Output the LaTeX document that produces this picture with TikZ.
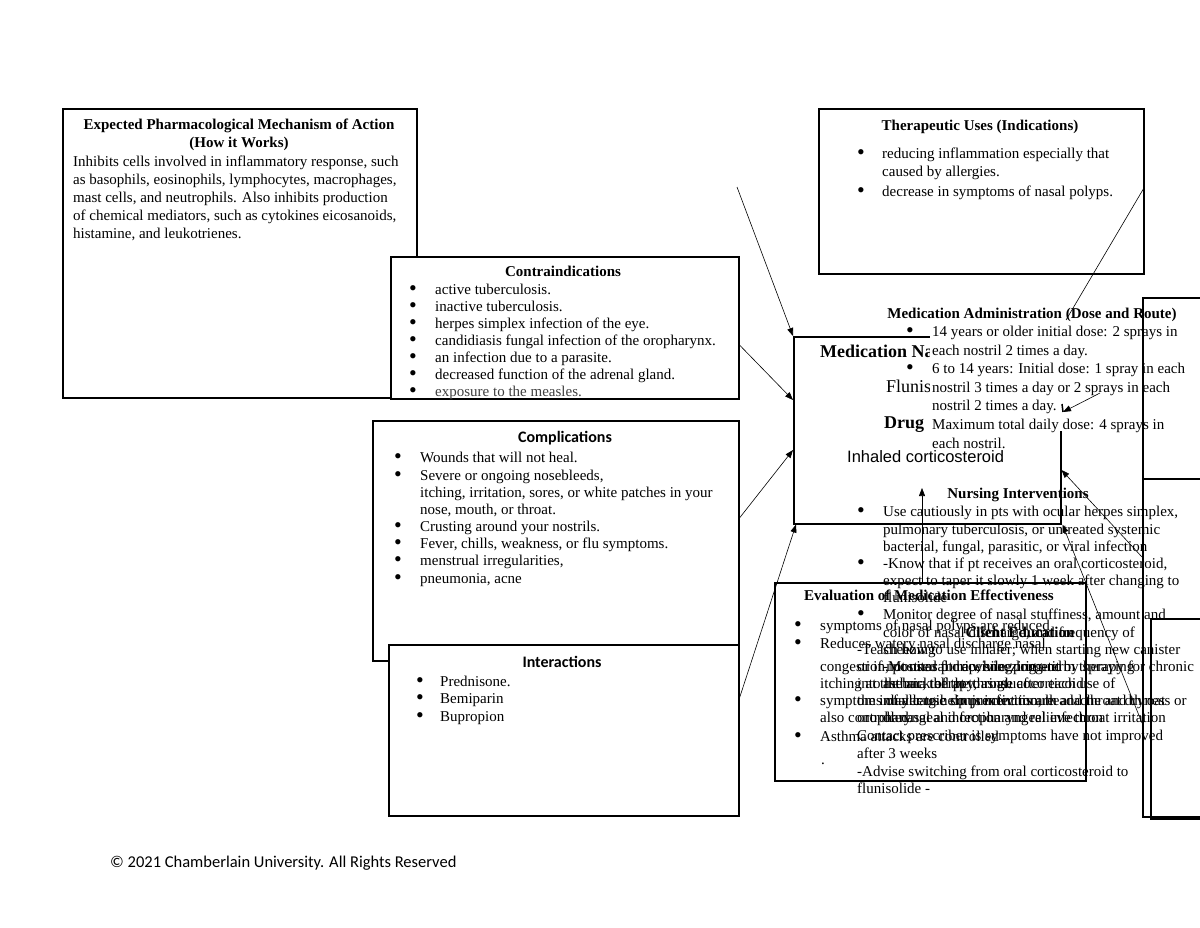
\documentclass[tikz,border=0pt]{standalone}
\usepackage{fontspec}
\setmainfont{Liberation Serif}
\newfontfamily\calfont{Carlito}
\newfontfamily\arialfont{Liberation Sans}
\usetikzlibrary{arrows.meta}
\newcommand\bodyfs{\fontsize{15}{18}\selectfont}
\begin{document}
\begin{tikzpicture}[x=1pt,y=-1pt,
  box/.style={draw,line width=1.5pt,inner sep=0pt,anchor=north west},
  wbox/.style={box,fill=white},
  t/.style={anchor=base west,inner sep=0pt,font=\bodyfs},
  hd/.style={anchor=base,inner sep=0pt,font=\bodyfs\bfseries},
  sh/.style={anchor=base,inner sep=0pt,font=\calfont\fontsize{16}{18}\selectfont\bfseries},
  bl/.style={anchor=base west,inner sep=0pt,yshift=-1.5pt,font=\fontsize{22}{22}\selectfont},
  arr/.style={line width=0.6pt,-{Triangle[length=8pt,width=6pt]}},
  ln/.style={line width=0.6pt}]
\useasboundingbox (0,0) rectangle (1200,927);
\clip (0,0) rectangle (1200,927);
\fill[white] (0,0) rectangle (1200,927);

% ---------- Mechanism ----------
\node[box,minimum width=354pt,minimum height=289pt] (mech) at (62,108) {};
\node[hd] (mechh1) at (239,129) {Expected Pharmacological Mechanism of Action};
\node[hd] (mechh2) at (239,147) {(How it Works)};
\node[t] (mech1) at (73,166) {Inhibits cells involved in inflammatory response, such};
\node[t] (mech2) at (73,184) {as basophils, eosinophils, lymphocytes, macrophages,};
\node[t] (mech3) at (73,202) {mast cells, and neutrophils. Also inhibits production};
\node[t] (mech4) at (73,220) {of chemical mediators, such as cytokines eicosanoids,};
\node[t] (mech5) at (73,238) {histamine, and leukotrienes.};

% ---------- Contraindications ----------
\node[wbox,minimum width=348pt,minimum height=142pt] (contra) at (390,256) {};
\node[hd] (contrah) at (563,276) {Contraindications};
\foreach \y/\s [count=\i] in {294/active tuberculosis.,311/inactive tuberculosis.,
  328/herpes simplex infection of the eye.,345/candidiasis fungal infection of the oropharynx.,
  362/an infection due to a parasite.,379/decreased function of the adrenal gland.}
  {\node[bl] (cb\i) at (409,\y) {•}; \node[t] (ct\i) at (435,\y) {\s};}
\node[bl] (cb7) at (409,396) {•};
\node[t,text=black!75] (ct7) at (435,396) {exposure to the measles.};

% ---------- Complications ----------
\node[box,minimum width=366pt,minimum height=240pt] (comp) at (372,420) {};
\node[sh] (comph) at (565,442) {Complications};
\node[bl] (pb1) at (394,462) {•}; \node[t] (pt1) at (420,462) { Wounds that will not heal.};
\node[bl] (pb2) at (394,480) {•}; \node[t] (pt2) at (420,480) {Severe or ongoing nosebleeds,};
\node[t] (pt2b) at (420,497) {itching, irritation, sores, or white patches in your};
\node[t] (pt2c) at (420,514) {nose, mouth, or throat.};
\node[bl] (pb3) at (394,531) {•}; \node[t] (pt3) at (420,531) {Crusting around your nostrils.};
\node[bl] (pb4) at (394,548) {•}; \node[t] (pt4) at (420,548) {Fever, chills, weakness, or flu symptoms.};
\node[bl] (pb5) at (394,565) {•}; \node[t] (pt5) at (420,565) {menstrual irregularities,};
\node[bl] (pb6) at (394,583) {•}; \node[t] (pt6) at (420,583) {pneumonia, acne};

% ---------- Interactions ----------
\node[wbox,minimum width=350pt,minimum height=171pt] (inter) at (388,644) {};
\node[sh] (interh) at (562,667) {Interactions};
\node[bl] (ib1) at (416,686) {•}; \node[t] (it1) at (440,686) {Prednisone.};
\node[bl] (ib2) at (416,703) {•}; \node[t] (it2) at (440,703) {Bemiparin};
\node[bl] (ib3) at (416,721) {•}; \node[t] (it3) at (440,721) {Bupropion};

% ---------- Therapeutic uses ----------
\node[box,minimum width=325pt,minimum height=165pt] (ther) at (818,108) {};
\node[hd] (therh) at (980,130) {Therapeutic Uses (Indications)};
\node[bl] (tb1) at (857,158) {•}; \node[t] (tt1) at (882,158) {reducing inflammation especially that};
\node[t] (tt1b) at (882,176) {caused by allergies.};
\node[bl] (tb2) at (857,196) {•}; \node[t] (tt2) at (882,196) {decrease in symptoms of nasal polyps.};

% ---------- Medication name box ----------
\node[box,minimum width=267pt,minimum height=187pt] (med) at (793,336) {};
\node[anchor=base west,inner sep=0pt,font=\fontsize{18}{20}\selectfont\bfseries] (medname) at (820,357) {Medication Na};
\node[anchor=base west,inner sep=0pt,font=\fontsize{18}{20}\selectfont] (flun) at (886,392) {Flunis};
\node[anchor=base west,inner sep=0pt,font=\fontsize{18}{20}\selectfont\bfseries] (drug) at (884,428) {Drug};
\fill[white] (930,321) rectangle (1141,431);
\node[anchor=base west,inner sep=0pt,font=\arialfont\fontsize{16.5}{18}\selectfont] (cls) at (847,462) {Inhaled corticosteroid};

% ---------- Medication administration ----------
\node[hd] (admh) at (1032,318) {Medication Administration (Dose and Route)};
\node[bl] (ab1) at (906,336) {•}; \node[t] (at1) at (932,336) {14 years or older initial dose: 2 sprays in};
\node[t] (at1b) at (932,355) {each nostril 2 times a day.};
\node[bl] (ab2) at (906,373) {•}; \node[t] (at2) at (932,373) {6 to 14 years: Initial dose: 1 spray in each};
\node[t] (at2b) at (932,392) {nostril 3 times a day or 2 sprays in each};
\node[t] (at2c) at (932,410) {nostril 2 times a day.};
\node[t] (at3) at (932,429) {Maximum total daily dose: 4 sprays in};
\node[t] (at3b) at (932,448) {each nostril.};

% ---------- Nursing interventions ----------
\node[hd] (nurh) at (1018,498) {Nursing Interventions};
\node[bl] (nb1) at (857,516) {•}; \node[t] (nt1) at (883,516) {Use cautiously in pts with ocular herpes simplex,};
\node[t] (nt1b) at (883,534) {pulmonary tuberculosis, or untreated systemic};
\node[t] (nt1c) at (883,551) {bacterial, fungal, parasitic, or viral infection};
\node[bl] (nb2) at (857,568) {•}; \node[t] (nt2) at (883,568) {-Know that if pt receives an oral corticosteroid,};
\node[t] (nt2b) at (883,585) {expect to taper it slowly 1 week after changing to};
\node[t] (nt2c) at (883,602) {flunisolide};
\node[bl] (nb3) at (857,619) {•}; \node[t] (nt3) at (883,619) {Monitor degree of nasal stuffiness, amount and};
\node[t] (nt3b) at (883,637) {color of nasal discharge, and frequency of};
\node[t] (nt3c) at (883,654) {sneezing};
\node[t] (nt4) at (883,671) {-Monitor pt receiving long-term therapy for chronic};
\node[t] (nt4b) at (883,688) {asthma therapy, as glucocorticoid};
\node[t] (nt4c) at (883,705) {may cause sinus infection, headache and throat};
\node[t] (nt4d) at (883,722) {or nasal and oropharyngeal infection};

% ---------- Client education ----------
\node[hd] (cedh) at (1020,637) {Client Education};
\node[t] (ce1) at (857,654) {-Teach how to use inhaler; when starting new canister};
\node[t] (ce2) at (857,671) {or if not used for a while, prime it by spraying};
\node[t] (ce3) at (857,688) {into the air; tell pt to rinse after each use of};
\node[t] (ce4) at (857,705) {the inhaler to help prevent mouth and throat dryness or};
\node[t] (ce5) at (857,722) {oropharyngeal infection and relieve throat irritation};
\node[t] (ce6) at (857,740) {Contact prescriber is symptoms have not improved};
\node[t] (ce7) at (857,758) {after 3 weeks};
\node[t] (ce8) at (857,776) {-Advise switching from oral corticosteroid to};
\node[t] (ce9) at (857,793) {flunisolide -};

% ---------- Evaluation ----------
\node[box,minimum width=311pt,minimum height=198pt] (eval) at (774,582) {};
\node[hd] (evh) at (929,600) {Evaluation of Medication Effectiveness};
\node[bl] (eb1) at (794,630) {•}; \node[t] (et1) at (820,630) {symptoms of nasal polyps are reduced.};
\node[bl] (eb2) at (794,648) {•}; \node[t] (et2) at (820,648) {Reduces watery nasal discharge nasal};
\node[t] (et2b) at (820,671) {congestion, postnasal drip, sneezing and};
\node[t] (et2c) at (820,688) {itching at the back of the throat.};
\node[bl] (eb3) at (794,705) {•}; \node[t] (et3) at (820,705) {symptoms of allergic conjunctivitis are};
\node[t] (et3b) at (820,722) {also controlled.};
\node[bl] (eb4) at (794,741) {•}; \node[t] (et4) at (820,741) {Asthma attacks are controlled};
\node[t] (et5) at (821,764) {.};

% ---------- right-hand boxes ----------
\node[box,minimum width=70pt,minimum height=181pt] (r1) at (1142,297) {};
\node[box,minimum width=70pt,minimum height=338pt] (r2) at (1142,478) {};
\node[box,minimum width=62pt,minimum height=200pt] (r3) at (1150,618) {};

% ---------- footer ----------
\node[anchor=base west,inner sep=0pt,font=\calfont\fontsize{16.5}{18}\selectfont] (foot) at (110,867) {© 2021 Chamberlain University. All Rights Reserved};

% ---------- connectors ----------
\coordinate (s1) at (737,187);
\coordinate (s8) at (1066,320);
\coordinate (s9) at (1100,393);
\coordinate (e9) at (1063,412);
\draw[arr] (s1) -- (med.north west);
\draw[arr] (contra.east |- 0,345) -- (med.west |- 0,400);
\draw[arr] (comp.east |- 0,518) -- (med.west |- 0,450);
\draw[arr] (inter.east |- 0,698) -- ([xshift=3pt]med.south west);
\draw[arr] (eval.north -| 922,0) -- (922,488);
\draw[arr] (r2.west |- 0,557) -- (med.east |- 0,470);
\draw[arr] (r2.west |- 0,723) -- ([xshift=1pt]med.south east);
\draw[ln] (ther.east |- 0,187) -- (s8);
\draw[arr] (s9) -- (e9);
\draw[line width=1.5pt] (1062,404) -- (e9);
\end{tikzpicture}
\end{document}
